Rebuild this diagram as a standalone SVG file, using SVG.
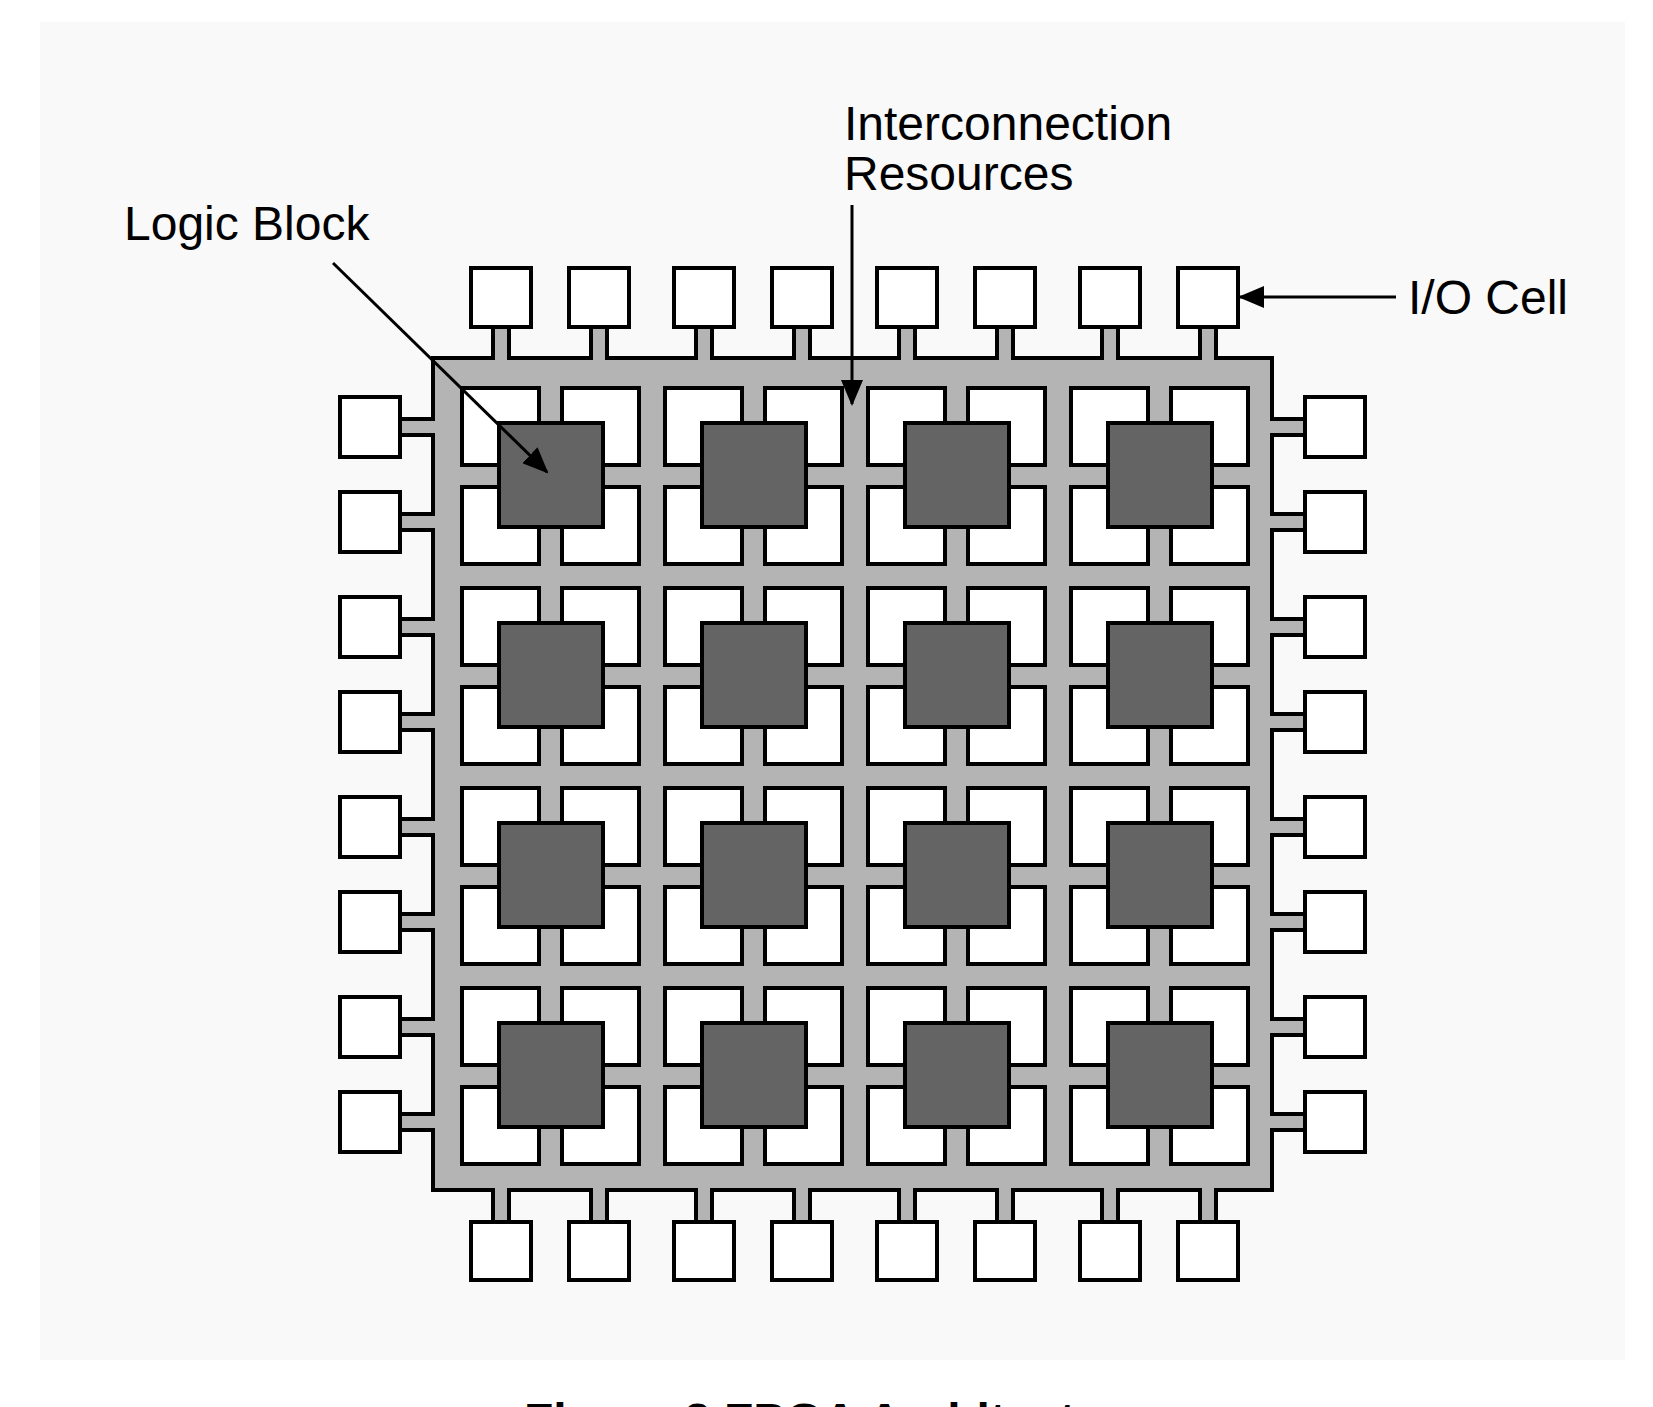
<svg xmlns="http://www.w3.org/2000/svg" xmlns:xlink="http://www.w3.org/1999/xlink" width="1653" height="1407" viewBox="0 0 1653 1407">
<style>
.lbl{font-family:"Liberation Sans",Arial,sans-serif;font-size:48px;fill:#000}
.cap{font-family:"Liberation Sans",Arial,sans-serif;font-size:48px;font-weight:bold;fill:#000}
.io{fill:#fff;stroke:#000;stroke-width:4}
.ws{fill:#fff;stroke:#000;stroke-width:4}
.lb{fill:#646464;stroke:#000;stroke-width:4}
.ln{stroke:#000;stroke-width:3;fill:none}
</style>
<defs>
<marker id="ah" markerUnits="userSpaceOnUse" markerWidth="26" markerHeight="22" refX="24" refY="11" orient="auto">
<path d="M0,0 L26,11 L0,22 Z" fill="#000"/>
</marker>
<g id="tile">
<rect class="ws" x="-89" y="-87" width="77" height="77"/>
<rect class="ws" x="11" y="-87" width="77" height="77"/>
<rect class="ws" x="-89" y="12" width="77" height="77"/>
<rect class="ws" x="11" y="12" width="77" height="77"/>
<rect class="lb" x="-52" y="-52" width="104" height="104"/>
</g>
<g id="vs">
<rect x="-6" y="0" width="12" height="36" fill="#b4b4b4"/>
<path d="M-8 0V31M8 0V31" stroke="#000" stroke-width="4"/>
</g>
</defs>
<rect x="0" y="0" width="1653" height="1407" fill="#fff"/>
<rect x="40" y="22" width="1585" height="1338" fill="#f9f9f9"/>
<g id="fabric">
<rect x="433" y="358" width="839" height="832" fill="#b4b4b4" stroke="#000" stroke-width="4"/>
</g>
<g id="logic-blocks">
<g id="lb-0-0"><use xlink:href="#tile" x="551" y="475"/></g>
<g id="lb-1-0"><use xlink:href="#tile" x="754" y="475"/></g>
<g id="lb-2-0"><use xlink:href="#tile" x="957" y="475"/></g>
<g id="lb-3-0"><use xlink:href="#tile" x="1160" y="475"/></g>
<g id="lb-0-1"><use xlink:href="#tile" x="551" y="675"/></g>
<g id="lb-1-1"><use xlink:href="#tile" x="754" y="675"/></g>
<g id="lb-2-1"><use xlink:href="#tile" x="957" y="675"/></g>
<g id="lb-3-1"><use xlink:href="#tile" x="1160" y="675"/></g>
<g id="lb-0-2"><use xlink:href="#tile" x="551" y="875"/></g>
<g id="lb-1-2"><use xlink:href="#tile" x="754" y="875"/></g>
<g id="lb-2-2"><use xlink:href="#tile" x="957" y="875"/></g>
<g id="lb-3-2"><use xlink:href="#tile" x="1160" y="875"/></g>
<g id="lb-0-3"><use xlink:href="#tile" x="551" y="1075"/></g>
<g id="lb-1-3"><use xlink:href="#tile" x="754" y="1075"/></g>
<g id="lb-2-3"><use xlink:href="#tile" x="957" y="1075"/></g>
<g id="lb-3-3"><use xlink:href="#tile" x="1160" y="1075"/></g>
</g>
<g id="connectors">
<use xlink:href="#vs" transform="translate(501,327)"/>
<use xlink:href="#vs" transform="translate(599,327)"/>
<use xlink:href="#vs" transform="translate(704,327)"/>
<use xlink:href="#vs" transform="translate(802,327)"/>
<use xlink:href="#vs" transform="translate(907,327)"/>
<use xlink:href="#vs" transform="translate(1005,327)"/>
<use xlink:href="#vs" transform="translate(1110,327)"/>
<use xlink:href="#vs" transform="translate(1208,327)"/>
<use xlink:href="#vs" transform="translate(501,1222) scale(1,-1)"/>
<use xlink:href="#vs" transform="translate(599,1222) scale(1,-1)"/>
<use xlink:href="#vs" transform="translate(704,1222) scale(1,-1)"/>
<use xlink:href="#vs" transform="translate(802,1222) scale(1,-1)"/>
<use xlink:href="#vs" transform="translate(907,1222) scale(1,-1)"/>
<use xlink:href="#vs" transform="translate(1005,1222) scale(1,-1)"/>
<use xlink:href="#vs" transform="translate(1110,1222) scale(1,-1)"/>
<use xlink:href="#vs" transform="translate(1208,1222) scale(1,-1)"/>
<use xlink:href="#vs" transform="translate(400,427) rotate(-90)"/>
<use xlink:href="#vs" transform="translate(400,522) rotate(-90)"/>
<use xlink:href="#vs" transform="translate(400,627) rotate(-90)"/>
<use xlink:href="#vs" transform="translate(400,722) rotate(-90)"/>
<use xlink:href="#vs" transform="translate(400,827) rotate(-90)"/>
<use xlink:href="#vs" transform="translate(400,922) rotate(-90)"/>
<use xlink:href="#vs" transform="translate(400,1027) rotate(-90)"/>
<use xlink:href="#vs" transform="translate(400,1122) rotate(-90)"/>
<use xlink:href="#vs" transform="translate(1305,427) rotate(90)"/>
<use xlink:href="#vs" transform="translate(1305,522) rotate(90)"/>
<use xlink:href="#vs" transform="translate(1305,627) rotate(90)"/>
<use xlink:href="#vs" transform="translate(1305,722) rotate(90)"/>
<use xlink:href="#vs" transform="translate(1305,827) rotate(90)"/>
<use xlink:href="#vs" transform="translate(1305,922) rotate(90)"/>
<use xlink:href="#vs" transform="translate(1305,1027) rotate(90)"/>
<use xlink:href="#vs" transform="translate(1305,1122) rotate(90)"/>
</g>
<g id="io-top">
<g id="io-t1"><rect class="io" x="471" y="268" width="60" height="59"/></g>
<g id="io-t2"><rect class="io" x="569" y="268" width="60" height="59"/></g>
<g id="io-t3"><rect class="io" x="674" y="268" width="60" height="59"/></g>
<g id="io-t4"><rect class="io" x="772" y="268" width="60" height="59"/></g>
<g id="io-t5"><rect class="io" x="877" y="268" width="60" height="59"/></g>
<g id="io-t6"><rect class="io" x="975" y="268" width="60" height="59"/></g>
<g id="io-t7"><rect class="io" x="1080" y="268" width="60" height="59"/></g>
<g id="io-t8"><rect class="io" x="1178" y="268" width="60" height="59"/></g>
</g>
<g id="io-bottom">
<g id="io-b1"><rect class="io" x="471" y="1222" width="60" height="58"/></g>
<g id="io-b2"><rect class="io" x="569" y="1222" width="60" height="58"/></g>
<g id="io-b3"><rect class="io" x="674" y="1222" width="60" height="58"/></g>
<g id="io-b4"><rect class="io" x="772" y="1222" width="60" height="58"/></g>
<g id="io-b5"><rect class="io" x="877" y="1222" width="60" height="58"/></g>
<g id="io-b6"><rect class="io" x="975" y="1222" width="60" height="58"/></g>
<g id="io-b7"><rect class="io" x="1080" y="1222" width="60" height="58"/></g>
<g id="io-b8"><rect class="io" x="1178" y="1222" width="60" height="58"/></g>
</g>
<g id="io-left">
<g id="io-l1"><rect class="io" x="340" y="397" width="60" height="60"/></g>
<g id="io-l2"><rect class="io" x="340" y="492" width="60" height="60"/></g>
<g id="io-l3"><rect class="io" x="340" y="597" width="60" height="60"/></g>
<g id="io-l4"><rect class="io" x="340" y="692" width="60" height="60"/></g>
<g id="io-l5"><rect class="io" x="340" y="797" width="60" height="60"/></g>
<g id="io-l6"><rect class="io" x="340" y="892" width="60" height="60"/></g>
<g id="io-l7"><rect class="io" x="340" y="997" width="60" height="60"/></g>
<g id="io-l8"><rect class="io" x="340" y="1092" width="60" height="60"/></g>
</g>
<g id="io-right">
<g id="io-r1"><rect class="io" x="1305" y="397" width="60" height="60"/></g>
<g id="io-r2"><rect class="io" x="1305" y="492" width="60" height="60"/></g>
<g id="io-r3"><rect class="io" x="1305" y="597" width="60" height="60"/></g>
<g id="io-r4"><rect class="io" x="1305" y="692" width="60" height="60"/></g>
<g id="io-r5"><rect class="io" x="1305" y="797" width="60" height="60"/></g>
<g id="io-r6"><rect class="io" x="1305" y="892" width="60" height="60"/></g>
<g id="io-r7"><rect class="io" x="1305" y="997" width="60" height="60"/></g>
<g id="io-r8"><rect class="io" x="1305" y="1092" width="60" height="60"/></g>
</g>
<g id="callouts">
<line class="ln" x1="333" y1="263" x2="547" y2="472" marker-end="url(#ah)"/>
<line class="ln" x1="852" y1="205" x2="852" y2="404" marker-end="url(#ah)"/>
<line class="ln" x1="1396" y1="297" x2="1240" y2="297" marker-end="url(#ah)"/>
</g>
<g id="labels">
<text class="lbl" x="124" y="240">Logic Block</text>
<text class="lbl" x="844" y="140">Interconnection</text>
<text class="lbl" x="844" y="190">Resources</text>
<text class="lbl" x="1408" y="314">I/O Cell</text>
<text class="cap" x="524" y="1437">Figure 2 FPGA Architecture</text>
</g>
</svg>
